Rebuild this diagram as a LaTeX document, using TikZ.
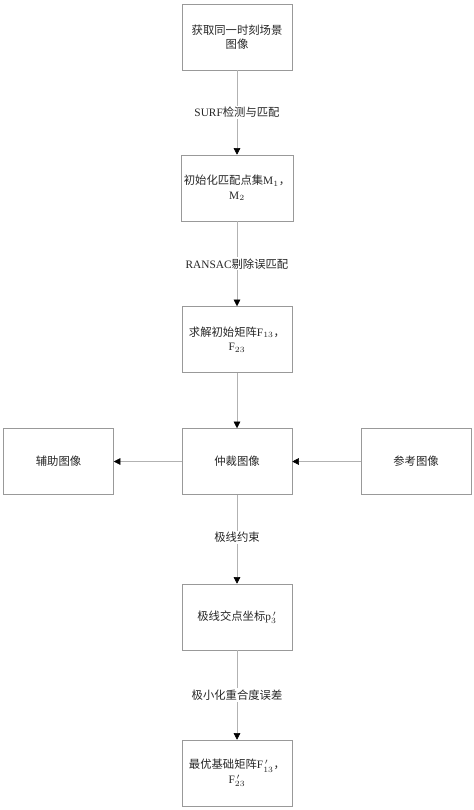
\documentclass[tikz,border=0pt]{standalone}
\usepackage{fontspec}
\setmainfont{Liberation Serif}
\newfontfamily\cjk{Noto Sans CJK SC}
\usepackage{tikz}
\usetikzlibrary{arrows.meta}

\begin{document}
\begin{tikzpicture}[x=0.75pt, y=-0.75pt,
    every node/.style={font=\cjk\fontsize{8.5pt}{11pt}\selectfont, text=black!85},
    stepbox/.style={draw=black!40, minimum width=82.5pt, minimum height=49.5pt, align=center, inner sep=2pt},
    steplabel/.style={fill=white, inner sep=1pt},
    flow/.style={draw=black!30, -{Triangle[length=5pt, width=5pt, color=black]}}]
    \useasboundingbox (0,0) rectangle (474,810);
    \node[stepbox] (scene) at (237,37) {获取同一时刻场景\\图像};
    \node[stepbox] (match) at (237,188) {初始化匹配点集{\rmfamily M$_1$}，\\{\rmfamily M$_2$}};
    \node[stepbox] (init) at (237,339.5) {求解初始矩阵{\rmfamily F$_{13}$}，\\{\rmfamily F$_{23}$}};
    \node[stepbox] (arbiter) at (237,461.5) {仲裁图像};
    \node[stepbox] (aux) at (58.5,461.5) {辅助图像};
    \node[stepbox] (ref) at (416,461.5) {参考图像};
    \node[stepbox] (cross) at (237,617) {极线交点坐标{\rmfamily p$_3^{\,\prime}$}};
    \node[stepbox] (best) at (237,773) {最优基础矩阵{\rmfamily F$_{13}^{\,\prime}$}，\\{\rmfamily F$_{23}^{\,\prime}$}};
    \draw[flow] (scene) -- node[steplabel] {{\rmfamily SURF}检测与匹配} (match);
    \draw[flow] (match) -- node[steplabel] {{\rmfamily RANSAC}剔除误匹配} (init);
    \draw[flow] (init) -- (arbiter);
    \draw[flow] (arbiter) -- (aux);
    \draw[flow] (ref) -- (arbiter);
    \draw[flow] (arbiter) -- node[steplabel, pos=0.48] {极线约束} (cross);
    \draw[flow] (cross) -- node[steplabel, pos=0.5] {极小化重合度误差} (best);
\end{tikzpicture}
\end{document}
